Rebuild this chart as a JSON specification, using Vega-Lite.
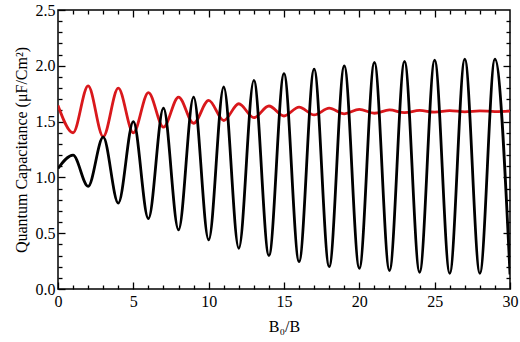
{
  "$schema": "https://vega.github.io/schema/vega-lite/v6.json",
  "width": 452,
  "height": 279,
  "autosize": {"type": "none"},
  "padding": {"left": 58, "top": 10, "right": 10, "bottom": 53},
  "background": "white",
  "config": {
    "view": {"stroke": "black", "strokeWidth": 1.5},
    "axis": {
      "labelFont": "Liberation Serif",
      "titleFont": "Liberation Serif",
      "labelFontSize": 16,
      "titleFontSize": 16,
      "titleFontWeight": "normal",
      "labelColor": "black",
      "titleColor": "black",
      "domain": false,
      "grid": false
    }
  },
  "datasets": {
    "black": [
      {"x": 0, "y": 1.08}, {"x": 1, "y": 1.2}, {"x": 2, "y": 0.92}, {"x": 3, "y": 1.36},
      {"x": 4, "y": 0.77}, {"x": 5, "y": 1.5}, {"x": 6, "y": 0.63}, {"x": 7, "y": 1.62},
      {"x": 8, "y": 0.53}, {"x": 9, "y": 1.72}, {"x": 10, "y": 0.44}, {"x": 11, "y": 1.81},
      {"x": 12, "y": 0.365}, {"x": 13, "y": 1.87}, {"x": 14, "y": 0.3}, {"x": 15, "y": 1.93},
      {"x": 16, "y": 0.245}, {"x": 17, "y": 1.97}, {"x": 18, "y": 0.2}, {"x": 19, "y": 2.0},
      {"x": 20, "y": 0.185}, {"x": 21, "y": 2.03}, {"x": 22, "y": 0.165}, {"x": 23, "y": 2.04},
      {"x": 24, "y": 0.15}, {"x": 25, "y": 2.05}, {"x": 26, "y": 0.14}, {"x": 27, "y": 2.06},
      {"x": 28, "y": 0.14}, {"x": 29, "y": 2.06}, {"x": 30, "y": 0.13}
    ],
    "red": [
      {"x": 0, "y": 1.645}, {"x": 1, "y": 1.4}, {"x": 2, "y": 1.82}, {"x": 3, "y": 1.365},
      {"x": 4, "y": 1.8}, {"x": 5, "y": 1.4}, {"x": 6, "y": 1.76}, {"x": 7, "y": 1.45},
      {"x": 8, "y": 1.72}, {"x": 9, "y": 1.485}, {"x": 10, "y": 1.69}, {"x": 11, "y": 1.51},
      {"x": 12, "y": 1.66}, {"x": 13, "y": 1.535}, {"x": 14, "y": 1.64}, {"x": 15, "y": 1.55},
      {"x": 16, "y": 1.63}, {"x": 17, "y": 1.56}, {"x": 18, "y": 1.62}, {"x": 19, "y": 1.57},
      {"x": 20, "y": 1.61}, {"x": 21, "y": 1.575}, {"x": 22, "y": 1.605}, {"x": 23, "y": 1.58},
      {"x": 24, "y": 1.6}, {"x": 25, "y": 1.585}, {"x": 26, "y": 1.598}, {"x": 27, "y": 1.588},
      {"x": 28, "y": 1.596}, {"x": 29, "y": 1.59}, {"x": 30, "y": 1.594}
    ]
  },
  "resolve": {"axis": {"x": "independent", "y": "independent"}},
  "layer": [
    {
      "data": {"name": "black"},
      "mark": {"type": "line", "strokeOpacity": 0, "interpolate": "monotone", "clip": true},
      "encoding": {
        "x": {
          "field": "x", "type": "quantitative",
          "scale": {"domain": [0, 30], "nice": false},
          "axis": {
            "orient": "bottom", "title": null, "labels": false, "offset": -4,
            "values": [1,2,3,4,6,7,8,9,11,12,13,14,16,17,18,19,21,22,23,24,26,27,28,29],
            "ticks": true, "tickColor": "black", "tickWidth": 1.3, "tickSize": 4, "tickOpacity": 1
          }
        },
        "y": {
          "field": "y", "type": "quantitative",
          "scale": {"domain": [0, 2.5], "nice": false},
          "axis": {
            "orient": "left", "title": null, "labels": false, "offset": -4,
            "values": [0.1,0.2,0.3,0.4,0.6,0.7,0.8,0.9,1.1,1.2,1.3,1.4,1.6,1.7,1.8,1.9,2.1,2.2,2.3,2.4],
            "ticks": true, "tickColor": "black", "tickWidth": 1.3, "tickSize": 4, "tickOpacity": 1
          }
        }
      }
    },
    {
      "data": {"name": "red"},
      "mark": {"type": "line", "strokeOpacity": 0, "interpolate": "monotone", "clip": true},
      "encoding": {
        "x": {
          "field": "x", "type": "quantitative",
          "axis": {
            "orient": "top", "title": null, "labels": false, "offset": -4,
            "values": [1,2,3,4,6,7,8,9,11,12,13,14,16,17,18,19,21,22,23,24,26,27,28,29],
            "ticks": true, "tickColor": "black", "tickWidth": 1.3, "tickSize": 4, "tickOpacity": 1
          }
        },
        "y": {
          "field": "y", "type": "quantitative",
          "axis": {
            "orient": "right", "title": null, "labels": false, "offset": -4,
            "values": [0.1,0.2,0.3,0.4,0.6,0.7,0.8,0.9,1.1,1.2,1.3,1.4,1.6,1.7,1.8,1.9,2.1,2.2,2.3,2.4],
            "ticks": true, "tickColor": "black", "tickWidth": 1.3, "tickSize": 4, "tickOpacity": 1
          }
        }
      }
    },
    {
      "data": {"name": "red"},
      "mark": {"type": "line", "color": "#d9181c", "strokeWidth": 2.8, "interpolate": "monotone", "clip": true},
      "encoding": {
        "x": {
          "field": "x", "type": "quantitative",
          "axis": {
            "orient": "top", "title": null, "labels": false, "offset": -7,
            "values": [5, 10, 15, 20, 25],
            "ticks": true, "tickColor": "black", "tickWidth": 1.3, "tickSize": 7, "tickOpacity": 1
          }
        },
        "y": {
          "field": "y", "type": "quantitative",
          "axis": {
            "orient": "right", "title": null, "labels": false, "offset": -7,
            "values": [0.5, 1, 1.5, 2],
            "ticks": true, "tickColor": "black", "tickWidth": 1.3, "tickSize": 7, "tickOpacity": 1
          }
        }
      }
    },
    {
      "data": {"name": "black"},
      "mark": {"type": "line", "color": "black", "strokeWidth": 2.8, "interpolate": "monotone", "clip": true},
      "encoding": {
        "x": {
          "field": "x", "type": "quantitative",
          "axis": {
            "orient": "bottom", "title": "B₀/B", "offset": -7,
            "values": [0, 5, 10, 15, 20, 25, 30],
            "ticks": true, "tickColor": "black", "tickWidth": 1.3, "tickSize": 7, "tickOpacity": 1,
            "labelPadding": 4,
            "titlePadding": 9,
            "labelFlush": false
          }
        },
        "y": {
          "field": "y", "type": "quantitative",
          "axis": {
            "orient": "left", "title": "Quantum Capacitance (μF/Cm²)", "offset": -7,
            "values": [0, 0.5, 1, 1.5, 2, 2.5],
            "format": ".1f",
            "ticks": true, "tickColor": "black", "tickWidth": 1.3, "tickSize": 7, "tickOpacity": 1,
            "labelPadding": 3,
            "titlePadding": 6,
            "labelFlush": false
          }
        }
      }
    }
  ]
}
